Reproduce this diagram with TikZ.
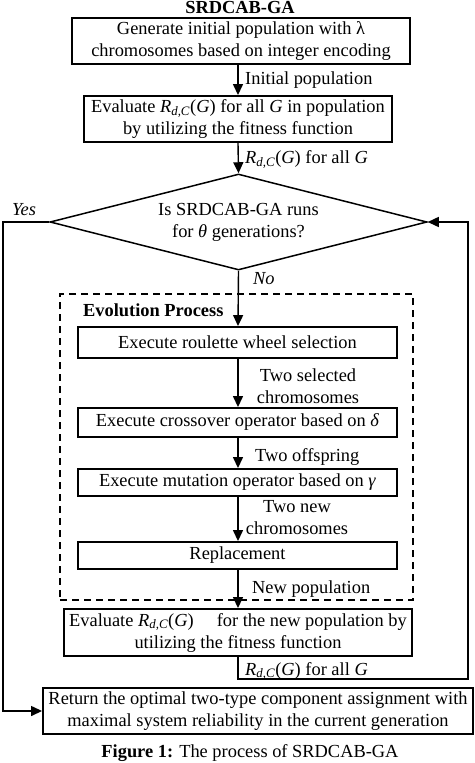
\documentclass[tikz,border=0pt]{standalone}
\usepackage{fontspec}
\setmainfont{Liberation Serif}
\usetikzlibrary{arrows.meta,shapes.geometric}
\newcommand{\Rdc}{\textit{R}\textsubscript{\textit{d,C}}(\textit{G})}
\begin{document}
\begin{tikzpicture}[x=1pt,y=-1pt,
  every node/.style={font=\fontsize{18.4}{22}\selectfont},
  box/.style={draw,line width=1.9pt,rectangle,inner sep=0pt,align=center},
  conn/.style={line width=1.4pt,-{Triangle[length=11pt,width=10pt]}},
  lbl/.style={inner sep=0pt,align=center}]
\useasboundingbox (0,0) rectangle (474,763);
\node[lbl,font=\fontsize{18.4}{22}\selectfont\bfseries,anchor=base] (title) at (240,13.5) {SRDCAB-GA};
\node[box,minimum width=338pt,minimum height=46pt] (init) at (241,41)
  {Generate initial population with λ\\chromosomes based on integer encoding};
\node[box,minimum width=308pt,minimum height=46pt] (eval) at (238,119)
  {Evaluate \Rdc{} for all \textit{G} in population\\by utilizing the fitness function};
\node[draw,diamond,line width=1.5pt,inner sep=0pt,aspect=3.93,minimum width=377pt,minimum height=96pt,align=center] (dia) at (238.5,222)
  {Is SRDCAB-GA runs\\for \textit{θ} generations?};
\node[draw,line width=1.4pt,dash pattern=on 7pt off 5pt,minimum width=353pt,minimum height=306pt,inner sep=0pt] (evo) at (236.5,447) {};
\node[lbl,font=\fontsize{18.4}{22}\selectfont\bfseries,anchor=west] (evot) at (83,310) {Evolution Process};
\node[box,minimum width=319pt,minimum height=31pt] (sel) at (237.5,342.5) {Execute roulette wheel selection};
\node[box,minimum width=319pt,minimum height=29pt] (cro) at (237.5,422.5) {Execute crossover operator based on \textit{δ}};
\node[box,minimum width=319pt,minimum height=27pt] (mut) at (237.5,482.5) {Execute mutation operator based on \textit{γ}};
\node[box,minimum width=319pt,minimum height=27pt] (rep) at (237.5,555.5) {Replacement};
\node[box,minimum width=348pt,minimum height=47pt] (evn) at (238,632.5)
  {Evaluate \Rdc\quad{} for the new population by\\utilizing the fitness function};
\node[box,minimum width=430pt,minimum height=46pt] (ret) at (258,711)
  {Return the optimal two-type component assignment with\\maximal system reliability in the current generation};
\node[lbl,anchor=base] (cap) at (250,757.5) {\textbf{Figure 1:} The process of SRDCAB-GA};
% labels
\node[lbl,anchor=west] (l1) at (245,80) {Initial population};
\node[lbl,anchor=west] (l2) at (245,160) {\Rdc{} for all \textit{G}};
\node[lbl] (lyes) at (24,210) {\textit{Yes}};
\node[lbl,anchor=west] (lno) at (253,279) {\textit{No}};
\node[lbl] (l3) at (308,386) {Two selected\\chromosomes};
\node[lbl,anchor=west] (l4) at (255,457) {Two offspring};
\node[lbl] (l5) at (297,518) {Two new\\chromosomes};
\node[lbl,anchor=west] (l6) at (252,589) {New population};
\node[lbl,anchor=west] (l7) at (245,671) {\Rdc{} for all \textit{G}};
% connectors
\draw[conn] (238,0 |- init.south) -- (238,0 |- eval.north);
\draw[conn] (eval.south) -- (dia.north);
\draw[conn] (dia.south) -- (238,0 |- sel.north);
\draw[conn] (238,0 |- sel.south) -- (238,0 |- cro.north);
\draw[conn] (238,0 |- cro.south) -- (238,0 |- mut.north);
\draw[conn] (238,0 |- mut.south) -- (238,0 |- rep.north);
\draw[conn] (238,0 |- rep.south) -- (evn.north);
\coordinate (lp1) at (238,679);
\coordinate (lp2) at (468,679);
\coordinate (lp3) at (468,222);
\draw[conn,line join=miter] (evn.south) -- (lp1) -- (lp2) -- (lp3) -- (dia.east);
\coordinate (yp1) at (3,222);
\draw[conn,line join=miter] (dia.west) -- (yp1) |- (ret.west);
\end{tikzpicture}
\end{document}
